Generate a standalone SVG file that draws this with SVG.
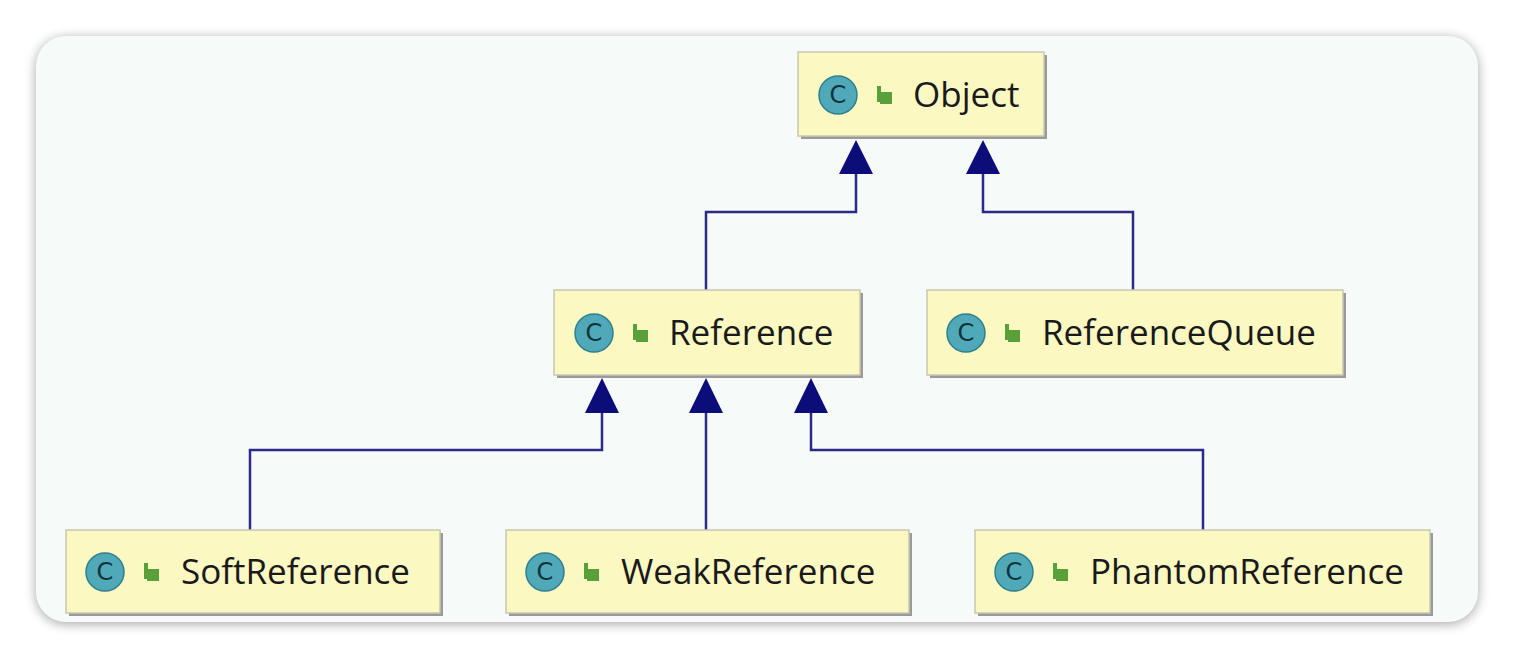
<svg xmlns="http://www.w3.org/2000/svg" width="1514" height="658" viewBox="0 0 1514 658">
<defs>
<filter id="sh" x="-5%" y="-5%" width="110%" height="110%"><feGaussianBlur stdDeviation="6"/></filter>
</defs>
<style>
.box{fill:#fbf8c2;stroke:#c8c8b0;stroke-width:1.5}
.shd{fill:#9a9a9a}
.t{font-family:"Open Sans","DejaVu Sans",sans-serif;font-size:35px;fill:#1a1a1a}
.ci{fill:#4fa9b8;stroke:#2f7f8e;stroke-width:1.5}
.cl{font-family:"DejaVu Sans",sans-serif;font-size:24px;fill:#12323a}
.lk{fill:#5aa03a}
.c{fill:none;stroke:#2a2a88;stroke-width:2.5}
</style>
<rect width="1514" height="658" fill="#ffffff"/>
<rect x="36" y="38" width="1442" height="586" rx="30" fill="#000" opacity="0.35" filter="url(#sh)"/>
<rect x="36" y="36" width="1442" height="586" rx="30" fill="#f6faf8"/>
<g id="connectors">
<path class="c" d="M706,290 V212 H856 V172" />
<path class="c" d="M1133,290 V212 H983 V172" />
<path class="c" d="M250,530 V450 H602 V412" />
<path class="c" d="M706,530 V412" />
<path class="c" d="M1203,530 V450 H811 V412" />
<g fill="#0d0d7a">
<path d="M856,140 L873,174 L839,174 Z"/>
<path d="M983,140 L1000,174 L966,174 Z"/>
<path d="M602,378 L619,413 L585,413 Z"/>
<path d="M706,378 L723,413 L689,413 Z"/>
<path d="M811,378 L828,413 L794,413 Z"/>
</g>
</g>
<g id="node-object">
<rect class="shd" x="801" y="55" width="246" height="84"/>
<rect class="box" x="798" y="52" width="246" height="84"/>
<circle class="ci" cx="838" cy="95" r="19"/><text class="cl" x="838" y="103" text-anchor="middle">C</text>
<rect class="lk" x="877" y="86" width="4" height="16"/><rect class="lk" x="880" y="92" width="12" height="12"/>
<text class="t" x="913" y="107">Object</text>
</g>
<g id="node-reference">
<rect class="shd" x="557" y="293" width="306" height="85"/>
<rect class="box" x="554" y="290" width="306" height="85"/>
<circle class="ci" cx="594" cy="333" r="19"/><text class="cl" x="594" y="341" text-anchor="middle">C</text>
<rect class="lk" x="633" y="324" width="4" height="16"/><rect class="lk" x="636" y="330" width="12" height="12"/>
<text class="t" x="669" y="345">Reference</text>
</g>
<g id="node-referencequeue">
<rect class="shd" x="930" y="293" width="416" height="85"/>
<rect class="box" x="927" y="290" width="416" height="85"/>
<circle class="ci" cx="966" cy="333" r="19"/><text class="cl" x="966" y="341" text-anchor="middle">C</text>
<rect class="lk" x="1005" y="324" width="4" height="16"/><rect class="lk" x="1008" y="330" width="12" height="12"/>
<text class="t" x="1042" y="345">ReferenceQueue</text>
</g>
<g id="node-softreference">
<rect class="shd" x="69" y="533" width="374" height="83"/>
<rect class="box" x="66" y="530" width="374" height="83"/>
<circle class="ci" cx="105" cy="572" r="19"/><text class="cl" x="105" y="580" text-anchor="middle">C</text>
<rect class="lk" x="144" y="563" width="4" height="16"/><rect class="lk" x="147" y="569" width="12" height="12"/>
<text class="t" x="181" y="584">SoftReference</text>
</g>
<g id="node-weakreference">
<rect class="shd" x="509" y="533" width="403" height="83"/>
<rect class="box" x="506" y="530" width="403" height="83"/>
<circle class="ci" cx="545" cy="572" r="19"/><text class="cl" x="545" y="580" text-anchor="middle">C</text>
<rect class="lk" x="584" y="563" width="4" height="16"/><rect class="lk" x="587" y="569" width="12" height="12"/>
<text class="t" x="621" y="584">WeakReference</text>
</g>
<g id="node-phantomreference">
<rect class="shd" x="978" y="533" width="455" height="83"/>
<rect class="box" x="975" y="530" width="455" height="83"/>
<circle class="ci" cx="1014" cy="572" r="19"/><text class="cl" x="1014" y="580" text-anchor="middle">C</text>
<rect class="lk" x="1053" y="563" width="4" height="16"/><rect class="lk" x="1056" y="569" width="12" height="12"/>
<text class="t" x="1090" y="584">PhantomReference</text>
</g>
</svg>
